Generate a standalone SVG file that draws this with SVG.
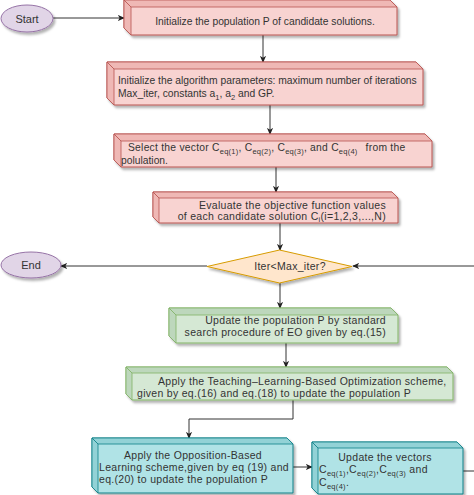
<svg xmlns="http://www.w3.org/2000/svg" width="474" height="495" viewBox="0 0 474 495">
<defs>
<style>
text{font-family:"Liberation Sans",Arial,sans-serif;fill:#333;}
.t10{font-size:10.3px;}
.t11{font-size:10.5px;letter-spacing:0.3px;}
.sub{font-size:7.5px;}
.pk .o{fill:#f8d3d1;stroke:#b85450;stroke-width:1;}
.pk .f{fill:#efb8b5;stroke:#b85450;stroke-width:0.8;}
.gr .o{fill:#d5e8d4;stroke:#82b366;stroke-width:1;}
.gr .f{fill:#bdd7bc;stroke:#82b366;stroke-width:0.8;}
.cy .o{fill:#b0e3e6;stroke:#0e8088;stroke-width:1;}
.cy .f{fill:#92d2d6;stroke:#0e8088;stroke-width:0.8;}
.ell{fill:#e1d5e7;stroke:#9673a6;stroke-width:1;}
.conn path{fill:none;stroke:#333;stroke-width:1;}
</style>
<filter id="sh" x="-10%" y="-10%" width="130%" height="140%">
<feDropShadow dx="2" dy="2.5" stdDeviation="1" flood-color="#000" flood-opacity="0.3"/>
</filter>
<marker id="ar" viewBox="0 0 8 8" refX="7" refY="4" markerWidth="7" markerHeight="7" markerUnits="userSpaceOnUse" orient="auto">
<path d="M0,0.5 L8,4 L0,7.5 L2,4 Z" fill="#222"/>
</marker>
</defs>
<rect width="474" height="495" fill="#fff"/>

<g id="connectors" class="conn">
<path d="M53,18 H124" marker-end="url(#ar)"/>
<path d="M263,35 V62" marker-end="url(#ar)"/>
<path d="M270,105 V134" marker-end="url(#ar)"/>
<path d="M276,167 V192" marker-end="url(#ar)"/>
<path d="M280,223 V250" marker-end="url(#ar)"/>
<path d="M207,266 H61" marker-end="url(#ar)"/>
<path d="M463,471 H480 V266 H353" marker-end="url(#ar)"/>
<path d="M280,283 V308" marker-end="url(#ar)"/>
<path d="M286,343 V367" marker-end="url(#ar)"/>
<path d="M293,400 V419 H189 V438" marker-end="url(#ar)"/>
<path d="M293,467 H312" marker-end="url(#ar)"/>
</g>

<g id="start">
<ellipse class="ell" cx="27" cy="18.5" rx="26" ry="13.5" filter="url(#sh)"/>
<text x="27" y="22.5" text-anchor="middle" style="font-size:11px">Start</text>
</g>

<g id="end">
<ellipse class="ell" cx="31" cy="265" rx="30" ry="13" filter="url(#sh)"/>
<text x="31" y="269" text-anchor="middle" style="font-size:11px">End</text>
</g>

<g id="init-pop" class="pk">
<path class="o" filter="url(#sh)" d="M124,0 L390,0 L397,7 L397,35 L131,35 L124,28 Z"/>
<path class="f" d="M124,0 L390,0 L397,7 L131,7 Z"/>
<path class="f" d="M124,0 L131,7 L131,35 L124,28 Z"/>
<text class="t10" x="265" y="25" text-anchor="middle">Initialize the population P of candidate solutions.</text>
</g>

<g id="init-params" class="pk">
<path class="o" filter="url(#sh)" d="M107,62 L416,62 L423,69 L423,105 L114,105 L107,98 Z"/>
<path class="f" d="M107,62 L416,62 L423,69 L114,69 Z"/>
<path class="f" d="M107,62 L114,69 L114,105 L107,98 Z"/>
<text class="t10" x="118" y="84">Initialize the algorithm parameters: maximum number of iterations</text>
<text class="t10" x="118" y="97">Max_iter, constants a<tspan class="sub" dy="2.5">1</tspan><tspan dy="-2.5">, a</tspan><tspan class="sub" dy="2.5">2</tspan><tspan dy="-2.5"> and GP.</tspan></text>
</g>

<g id="select" class="pk">
<path class="o" filter="url(#sh)" d="M114,134 L425,134 L432,141 L432,167 L121,167 L114,160 Z"/>
<path class="f" d="M114,134 L425,134 L432,141 L121,141 Z"/>
<path class="f" d="M114,134 L121,141 L121,167 L114,160 Z"/>
<text class="t10" x="128" y="151" style="letter-spacing:0.25px">Select the vector C<tspan class="sub" dy="2.5">eq(1)</tspan><tspan dy="-2.5">, C</tspan><tspan class="sub" dy="2.5">eq(2)</tspan><tspan dy="-2.5">, C</tspan><tspan class="sub" dy="2.5">eq(3)</tspan><tspan dy="-2.5">, and C</tspan><tspan class="sub" dy="2.5">eq(4)</tspan><tspan dy="-2.5" dx="8">from the</tspan></text>
<text class="t10" x="121" y="164">polulation.</text>
</g>

<g id="evaluate" class="pk">
<path class="o" filter="url(#sh)" d="M153,192 L392,192 L398,198 L398,223 L159,223 L153,217 Z"/>
<path class="f" d="M153,192 L392,192 L398,198 L159,198 Z"/>
<path class="f" d="M153,192 L159,198 L159,223 L153,217 Z"/>
<text class="t11" x="386" y="209" text-anchor="end">Evaluate the objective function values</text>
<text class="t11" x="386" y="220" text-anchor="end">of each candidate solution C<tspan class="sub" dy="2">i</tspan><tspan dy="-2">(i=1,2,3,...,N)</tspan></text>
</g>

<g id="decision">
<path d="M207,266.5 L279.5,250 L352,266.5 L279.5,283 Z" fill="#ffe6cc" stroke="#d79b00" stroke-width="1" filter="url(#sh)"/>
<text class="t11" x="290" y="270" text-anchor="middle">Iter&lt;Max_iter?</text>
</g>

<g id="update-eo" class="gr">
<path class="o" filter="url(#sh)" d="M169,308 L391,308 L398,315 L398,343 L176,343 L169,336 Z"/>
<path class="f" d="M169,308 L391,308 L398,315 L176,315 Z"/>
<path class="f" d="M169,308 L176,315 L176,343 L169,336 Z"/>
<text class="t11" x="386" y="324" text-anchor="end">Update the population P by standard</text>
<text class="t11" x="386" y="336" text-anchor="end">search procedure of EO given by eq.(15)</text>
</g>

<g id="tlbo" class="gr">
<path class="o" filter="url(#sh)" d="M126,367 L447,367 L453,373 L453,400 L132,400 L126,394 Z"/>
<path class="f" d="M126,367 L447,367 L453,373 L132,373 Z"/>
<path class="f" d="M126,367 L132,373 L132,400 L126,394 Z"/>
<text class="t11" x="158" y="385">Apply the Teaching–Learning-Based Optimization scheme,</text>
<text class="t11" x="137" y="397">given by eq.(16) and eq.(18) to update the population P</text>
</g>

<g id="obl" class="cy">
<path class="o" filter="url(#sh)" d="M92,438 L287,438 L293,444 L293,493 L98,493 L92,487 Z"/>
<path class="f" d="M92,438 L287,438 L293,444 L98,444 Z"/>
<path class="f" d="M92,438 L98,444 L98,493 L92,487 Z"/>
<text class="t11" x="193" y="459" text-anchor="middle">Apply the Opposition-Based</text>
<text class="t11" x="99" y="471">Learning scheme,given by eq (19) and</text>
<text class="t11" x="99" y="483">eq.(20) to update the population P</text>
</g>

<g id="update-vectors" class="cy">
<path class="o" filter="url(#sh)" d="M312,442 L457,442 L463,448 L463,494 L318,494 L312,488 Z"/>
<path class="f" d="M312,442 L457,442 L463,448 L318,448 Z"/>
<path class="f" d="M312,442 L318,448 L318,494 L312,488 Z"/>
<text class="t11" x="385" y="461" text-anchor="middle">Update the vectors</text>
<text class="t11" x="319" y="473">C<tspan class="sub" dy="2.5">eq(1)</tspan><tspan dy="-2.5">,C</tspan><tspan class="sub" dy="2.5">eq(2)</tspan><tspan dy="-2.5">,C</tspan><tspan class="sub" dy="2.5">eq(3)</tspan><tspan dy="-2.5"> and</tspan></text>
<text class="t11" x="319" y="486">C<tspan class="sub" dy="2.5">eq(4)</tspan><tspan dy="-2.5">.</tspan></text>
</g>
</svg>
